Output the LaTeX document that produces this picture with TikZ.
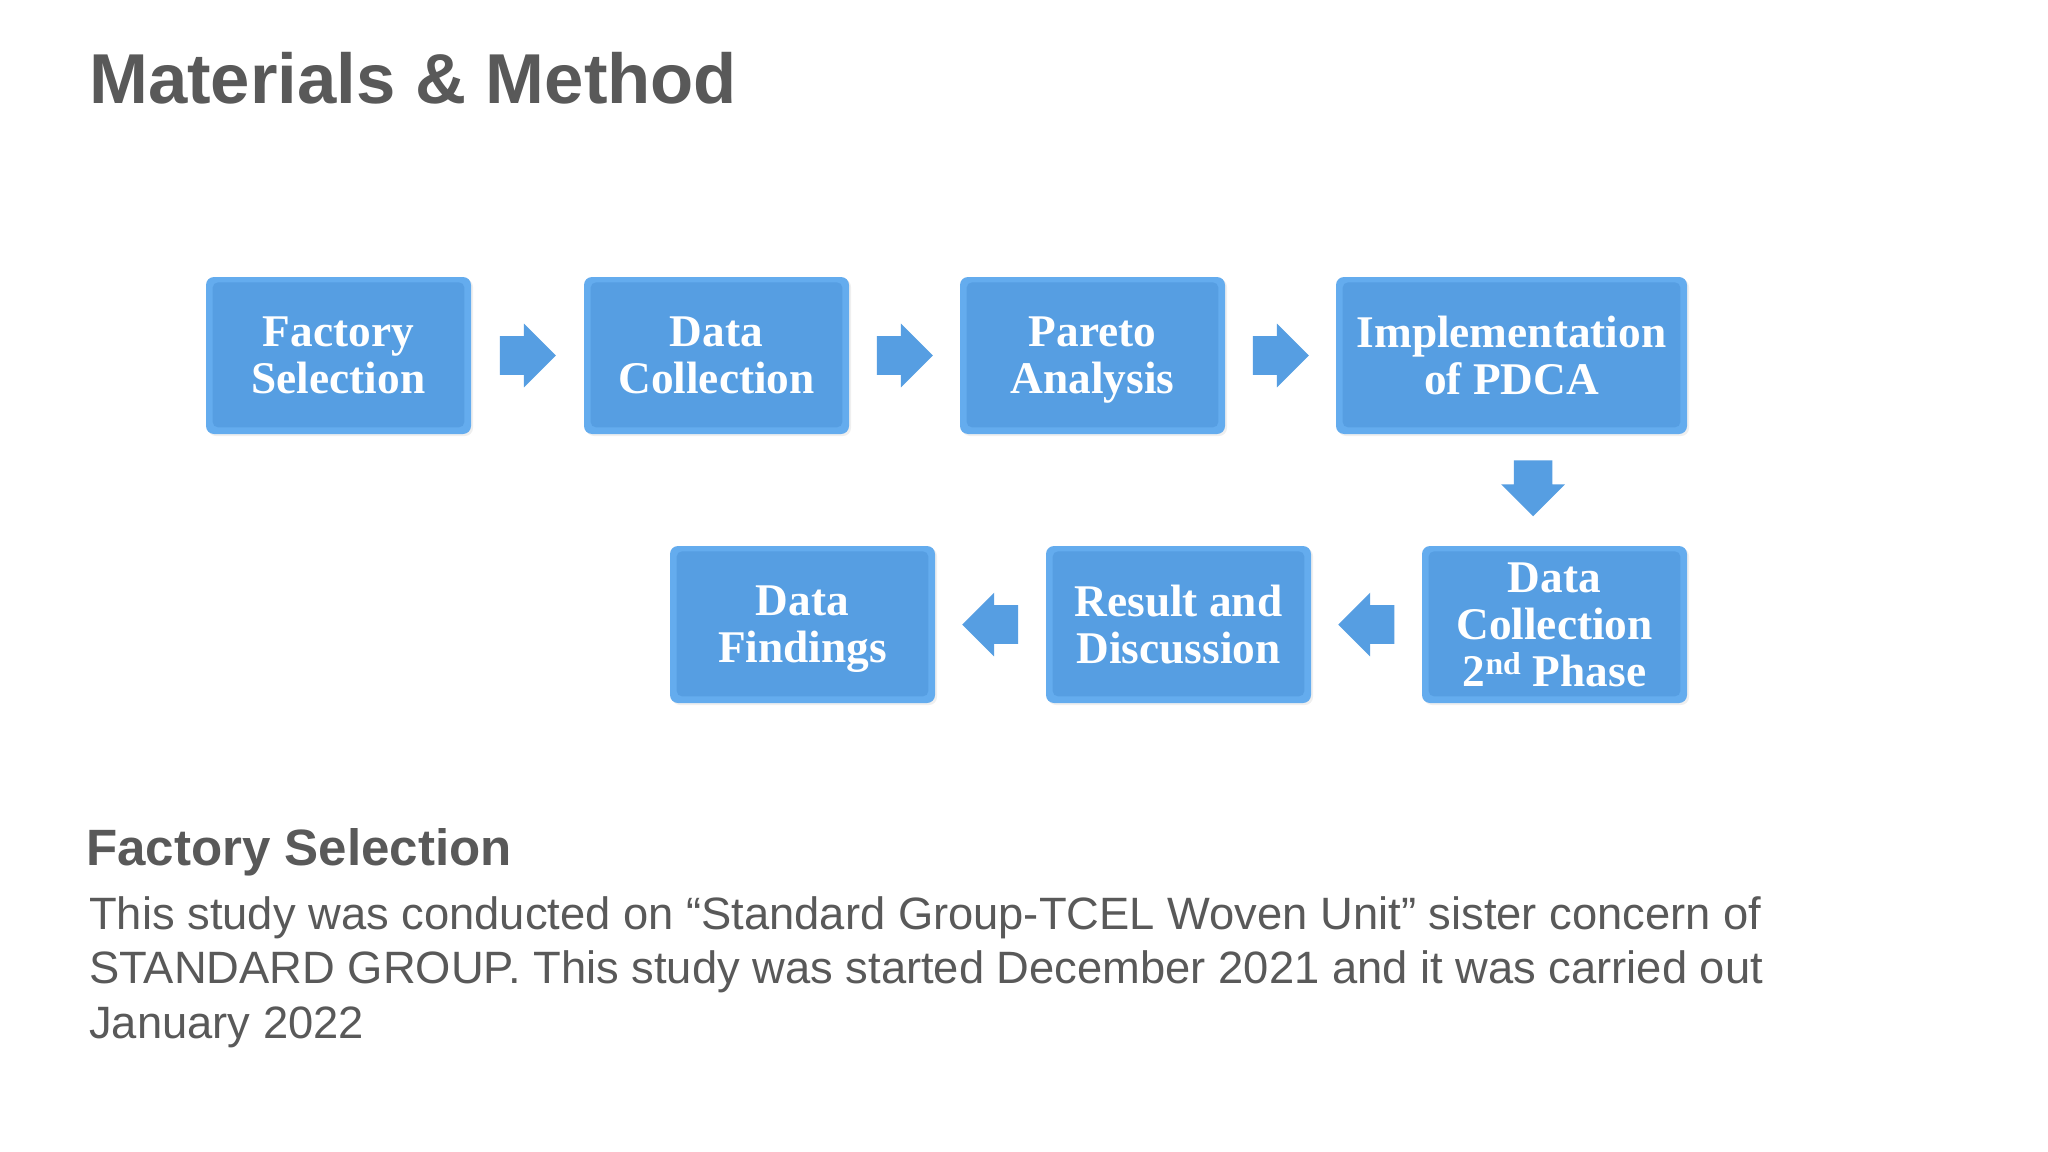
\documentclass[tikz,border=0pt]{standalone}
\usepackage{fontspec}
\setmainfont{Liberation Serif}
\setsansfont{Liberation Sans}
\usetikzlibrary{shapes.arrows,calc,shadows}
\definecolor{boxblue}{RGB}{86,158,226}
\definecolor{boxrim}{RGB}{100,172,238}
\definecolor{slidegray}{RGB}{89,89,89}
\tikzset{
  stepbox/.style={rectangle,rounded corners=6pt,fill=boxrim,draw=none,
    minimum width=198.75pt,minimum height=117.75pt,text=white,align=center,text depth=0pt,
    font=\fontsize{34}{35.25}\selectfont\bfseries,
    path picture={\fill[boxblue,rounded corners=4pt]
      ($(path picture bounding box.south west)+(5pt,5pt)$) rectangle
      ($(path picture bounding box.north east)+(-5pt,-4pt)$);},
    drop shadow={opacity=0.12,shadow xshift=1.5pt,shadow yshift=-1.5pt}},
  flowarrow/.style={single arrow,fill=boxblue,draw=none,minimum height=42pt,
    minimum width=47.25pt,single arrow head extend=9.4pt,inner sep=0pt,anchor=tail},
  bodytext/.style={anchor=base west,inner sep=0pt,text=slidegray,
    font=\sffamily\fontsize{34}{41}\selectfont}
}
\begin{document}
\begin{tikzpicture}[x=0.75pt,y=-0.75pt]
\useasboundingbox[fill=white] (0,0) rectangle (2048,1152);
\node[anchor=base west,inner sep=0pt,text=slidegray,font=\sffamily\bfseries\fontsize{53}{64}\selectfont] (title) at (89,104) {Materials \& Method};
% first row
\node[stepbox] (fs) at (338.5,355.5) {Factory\\Selection};
\node[stepbox] (dc) at (716.5,355.5) {Data\\Collection};
\node[stepbox] (pa) at (1092.5,355.5) {Pareto\\Analysis};
\node[stepbox,minimum width=263.25pt] (pdca) at (1511.5,355.5) {Implementation\\of PDCA};
% second row
\node[stepbox] (dc2) at (1554.5,624.5) {Data\\Collection\\2\textsuperscript{nd} Phase};
\node[stepbox] (rd) at (1178.5,624.5) {Result and\\Discussion};
\node[stepbox] (df) at (802.5,624.5) {Data\\Findings};
% block arrows
\foreach \a/\b in {fs/dc,dc/pa,pa/pdca}
  \node[flowarrow] (\a-\b) at ($(\a.east)!0.5!(\b.west)+(-28,0)$) {\rule{0pt}{28.5pt}};
\node[flowarrow,shape border rotate=270] (pdca-dc2) at ($(pdca.south)!0.5!(dc2.north)+(0,-30)$) {\rule{28.5pt}{0pt}};
\foreach \a/\b in {dc2/rd,rd/df}
  \node[flowarrow,shape border rotate=180] (\a-\b) at ($(\a.west)!0.5!(\b.east)+(28,0)$) {\rule{0pt}{28.5pt}};
% text below
\node[anchor=base west,inner sep=0pt,text=slidegray,font=\sffamily\bfseries\fontsize{38.3}{46}\selectfont] (sub) at (86,865) {Factory Selection};
\foreach \ln [count=\i] in {{This study was conducted on “Standard Group-TCEL Woven Unit” sister concern of},
  {STANDARD GROUP. This study was started December 2021 and it was carried out},{January 2022}}
  \node[bodytext] (line\i) at (89,{929+54.8*(\i-1)}) {\ln};
\end{tikzpicture}
\end{document}
